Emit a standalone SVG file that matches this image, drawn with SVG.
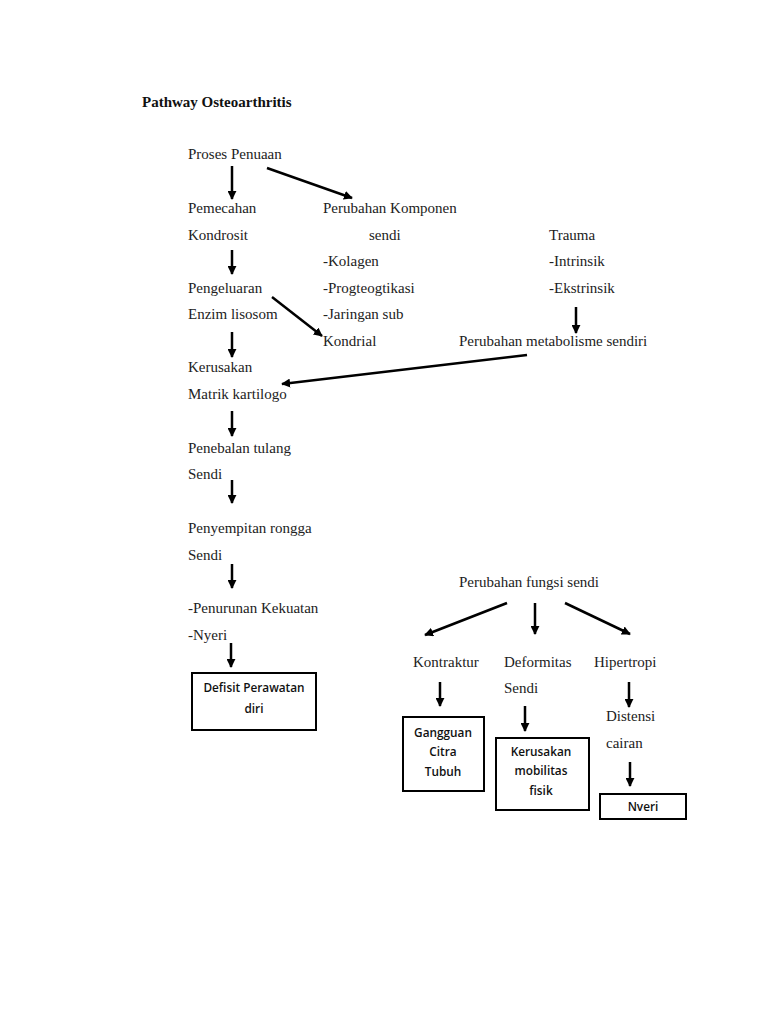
<svg xmlns="http://www.w3.org/2000/svg" width="768" height="1024" viewBox="0 0 768 1024">
<defs>
<marker id="ah" viewBox="0 0 10 10" refX="9" refY="5" markerWidth="3.6" markerHeight="3.6" orient="auto" markerUnits="strokeWidth">
<path d="M0,0 L10,5 L0,10 z" fill="#000"/>
</marker>
<style>
.t{font-family:"Liberation Serif","DejaVu Serif",serif;font-size:15px;fill:#222}
.h{font-family:"Liberation Serif","DejaVu Serif",serif;font-size:15px;font-weight:bold;fill:#111}
.b{font-family:"Open Sans","Noto Sans",sans-serif;font-size:11.8px;font-weight:600;fill:#111;text-anchor:middle}
.box{fill:#fff;stroke:#000;stroke-width:2}
.c line{stroke:#000;stroke-width:2.5;marker-end:url(#ah)}
</style>
</defs>
<rect width="768" height="1024" fill="#fff"/>
<text class="h" x="142" y="107">Pathway Osteoarthritis</text>

<g id="proses"><text class="t" x="188" y="159">Proses Penuaan</text></g>
<g id="pemecahan"><text class="t" x="188" y="213">Pemecahan</text><text class="t" x="188" y="240">Kondrosit</text></g>
<g id="komponen"><text class="t" x="323" y="213">Perubahan Komponen</text><text class="t" x="369" y="240">sendi</text><text class="t" x="323" y="266">-Kolagen</text><text class="t" x="323" y="293">-Progteogtikasi</text><text class="t" x="323" y="319">-Jaringan sub</text><text class="t" x="323" y="346">Kondrial</text></g>
<g id="trauma"><text class="t" x="549" y="240">Trauma</text><text class="t" x="549" y="266">-Intrinsik</text><text class="t" x="549" y="293">-Ekstrinsik</text></g>
<g id="metabolisme"><text class="t" x="459" y="346">Perubahan metabolisme sendiri</text></g>
<g id="pengeluaran"><text class="t" x="188" y="293">Pengeluaran</text><text class="t" x="188" y="319">Enzim lisosom</text></g>
<g id="kerusakan"><text class="t" x="188" y="372">Kerusakan</text><text class="t" x="188" y="399">Matrik kartilogo</text></g>
<g id="penebalan"><text class="t" x="188" y="453">Penebalan tulang</text><text class="t" x="188" y="479">Sendi</text></g>
<g id="penyempitan"><text class="t" x="188" y="533">Penyempitan rongga</text><text class="t" x="188" y="560">Sendi</text></g>
<g id="penurunan"><text class="t" x="188" y="613">-Penurunan Kekuatan</text><text class="t" x="188" y="640">-Nyeri</text></g>
<g id="defisit"><rect class="box" x="192" y="673" width="124" height="57"/><text class="b" x="254" y="692">Defisit Perawatan</text><text class="b" x="254" y="713">diri</text></g>

<g id="fungsi"><text class="t" x="459" y="587">Perubahan fungsi sendi</text></g>
<g id="kontraktur"><text class="t" x="413" y="667">Kontraktur</text></g>
<g id="deformitas"><text class="t" x="504" y="667">Deformitas</text><text class="t" x="504" y="693">Sendi</text></g>
<g id="hipertropi"><text class="t" x="594" y="667">Hipertropi</text></g>
<g id="distensi"><text class="t" x="606" y="721">Distensi</text><text class="t" x="606" y="748">cairan</text></g>
<g id="gangguan"><rect class="box" x="403" y="717" width="81" height="74"/><text class="b" x="443" y="737">Gangguan</text><text class="b" x="443" y="756">Citra</text><text class="b" x="443" y="776">Tubuh</text></g>
<g id="mobilitas"><rect class="box" x="496" y="738" width="93" height="72"/><text class="b" x="541" y="756">Kerusakan</text><text class="b" x="541" y="775">mobilitas</text><text class="b" x="541" y="795">fisik</text></g>
<g id="nveri"><rect class="box" x="600" y="794" width="86" height="25"/><text class="b" x="643" y="811">Nveri</text></g>

<g id="connectors" class="c">
<line x1="232" y1="166" x2="232" y2="199"/>
<line x1="267" y1="168" x2="352" y2="198"/>
<line x1="232" y1="250" x2="232" y2="274"/>
<line x1="272" y1="297" x2="322" y2="336"/>
<line x1="232" y1="332" x2="232" y2="357"/>
<line x1="576" y1="307" x2="576" y2="333"/>
<line x1="527" y1="355" x2="282" y2="384"/>
<line x1="232" y1="411" x2="232" y2="436"/>
<line x1="232" y1="480" x2="232" y2="503"/>
<line x1="232" y1="564" x2="232" y2="588"/>
<line x1="231" y1="643" x2="231" y2="667"/>
<line x1="507" y1="603" x2="425" y2="635"/>
<line x1="535" y1="603" x2="535" y2="634"/>
<line x1="565" y1="603" x2="630" y2="634"/>
<line x1="440" y1="682" x2="440" y2="706"/>
<line x1="525" y1="706" x2="525" y2="731"/>
<line x1="629" y1="682" x2="629" y2="707"/>
<line x1="630" y1="762" x2="630" y2="786"/>
</g>
</svg>
